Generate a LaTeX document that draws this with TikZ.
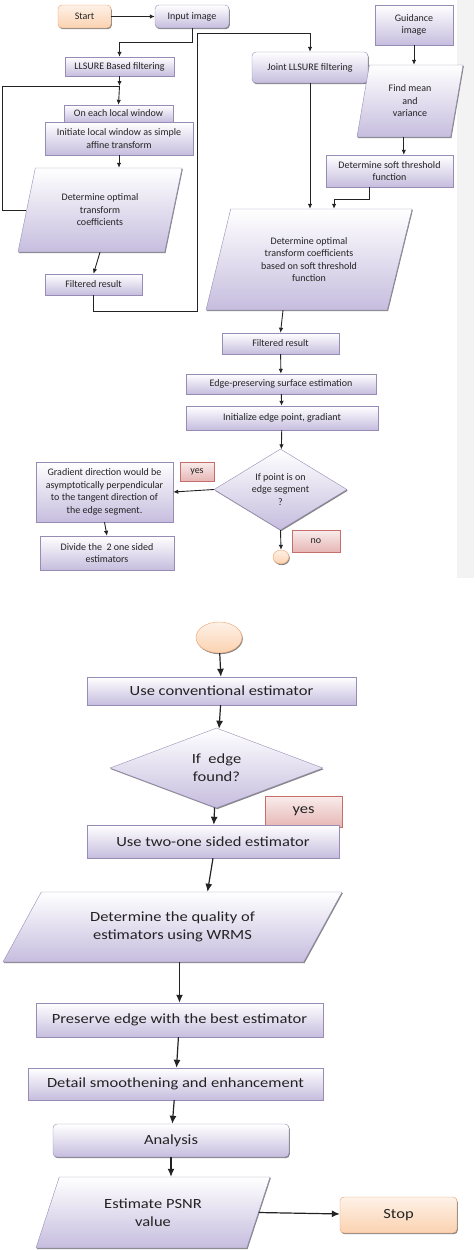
\documentclass[tikz,border=0pt]{standalone}
\usepackage{fontspec}
\setmainfont{Carlito}
\newfontfamily\widefont[FakeStretch=1.18]{Carlito}
\usetikzlibrary{arrows.meta,shapes.geometric,shadows}

\definecolor{lavender}{RGB}{198,189,222}
\definecolor{lavline}{RGB}{150,140,182}
\definecolor{peach}{RGB}{251,210,176}
\definecolor{peachline}{RGB}{238,160,108}
\definecolor{rose}{RGB}{230,182,180}
\definecolor{roseline}{RGB}{198,110,108}
\definecolor{ink}{RGB}{35,35,35}
\definecolor{strip}{RGB}{243,243,243}

\begin{document}
\begin{tikzpicture}[
  x=1pt, y=-1pt,
  font=\fontsize{10}{12.5}\selectfont, text=ink,
  base/.style={draw=lavline,top color=white,bottom color=lavender,
    align=center,inner sep=1pt,
    drop shadow={shadow xshift=0.8pt,shadow yshift=-1.2pt,opacity=.6,fill=black!80}},
  box/.style 2 args={base,rectangle,minimum width=#1,minimum height=#2},
  rbox/.style 2 args={box={#1}{#2},rounded corners=4pt},
  para/.style 2 args={base,trapezium,trapezium stretches body,
    minimum width=#1,minimum height=#2},
  test/.style 2 args={base,diamond,minimum width=#1,minimum height=#2,inner sep=0pt},
  term/.style 2 args={box={#1}{#2},rounded corners=4pt,draw=peachline,
    top color=peach!30,bottom color=peach},
  conn/.style 2 args={base,ellipse,minimum width=#1,minimum height=#2,
    draw=peachline,top color=peach!30,bottom color=peach},
  tag/.style 2 args={box={#1}{#2},draw=roseline,top color=rose!25,bottom color=rose},
  big/.style={font=\widefont\fontsize{14}{18}\selectfont},
  wire/.style={line width=0.9pt,draw=ink},
  arrow/.style={wire,-{Latex[length=5pt,width=4.5pt]}},
  bigarrow/.style={line width=1.2pt,draw=ink,-{Latex[length=8pt,width=7pt]}}
]
\useasboundingbox (0,0) rectangle (474,1250);
\fill[strip] (457,0) rectangle (474,578);

% upper chart
\node[term={53pt}{23pt}] (start) at (84.5,16.5) {Start};
\node[rbox={74pt}{23pt}] (input) at (192,16.5) {Input image};
\node[box={109pt}{19pt}] (llsure) at (119.5,66.5) {LLSURE Based filtering};
\node[box={109pt}{17pt}] (window) at (118.5,113.5) {On each local window};
\node[box={148pt}{33pt}] (affine) at (119,138.5)
  {Initiate local window as simple\\affine transform};
\node[para={164pt}{84pt},trapezium left angle=63,trapezium right angle=117]
  (opt) at (100,210) {Determine optimal\\transform\\coefficients};
\node[box={97pt}{21pt}] (filt1) at (93.5,284.5) {Filtered result};

\node[rbox={116pt}{31pt}] (joint) at (310,67.5) {Joint LLSURE filtering};
\node[box={78pt}{40pt}] (guide) at (414,25) {Guidance\\image};
\node[para={106pt}{72pt},trapezium left angle=70,trapezium right angle=110]
  (mean) at (410,101) {Find mean\\and\\variance};
\node[box={127pt}{32pt}] (soft) at (389.5,171) {Determine soft threshold\\function};
\node[para={206pt}{101pt},trapezium left angle=62,trapezium right angle=118]
  (optsoft) at (309,259.5)
  {Determine optimal\\transform coefficients\\based on soft threshold\\function};
\node[box={117pt}{21pt}] (filt2) at (280.5,343.5) {Filtered result};
\node[box={190pt}{20pt}] (surface) at (281,384) {Edge-preserving surface estimation};
\node[box={192pt}{24pt}] (init) at (282,418) {Initialize edge point, gradiant};
\node[test={133pt}{81pt},aspect=1.64] (point) at (280.5,489.5)
  {If point is on\\edge segment\\?};
\node[tag={34pt}{19pt}] (yes1) at (197,471.5) {yes};
\node[box={137pt}{60pt}] (grad) at (104.5,492)
  {Gradient direction would be\\asymptotically perpendicular\\to the tangent direction of\\the edge segment.};
\node[box={134pt}{34pt}] (divide) at (107,553) {Divide the~ 2 one sided\\estimators};
\node[tag={48pt}{22pt}] (no1) at (316,541) {no};
\node[conn={16pt}{14pt}] (out) at (281,557) {};

\draw[arrow] (start) -- (input);
\draw[arrow] (input.south) -- ++(0,14) -| (llsure.north);
\coordinate (loopc) at (2,86);
\coordinate (loopj) at (llsure.south |- loopc);
\draw[arrow] (llsure.south) -- (loopj);
\draw[arrow] (loopj) -- (window.north);
\draw[wire] (opt.west) -| (loopc) -- (loopj);
\draw[arrow] (affine.south) -- (affine.south |- opt.north);
\draw[arrow] (opt.south) -- (filt1.north);
\coordinate (back1) at (197,311);
\coordinate (back2) at (197,33);
\draw[arrow] (filt1.south) |- (back1) -- (back2) -| (joint.north);
\draw[arrow] (joint.south) -- (joint.south |- optsoft.north);
\draw[arrow] (guide.south) -- (guide.south |- mean.north);
\draw[arrow] (mean.bottom side) -- (mean.bottom side |- soft.north);
\draw[arrow] ([xshift=-20pt]soft.south) -- ++(0,12) -| ([xshift=25pt]optsoft.north);
\draw[arrow] ([xshift=-26pt]optsoft.south) -- (filt2.north);
\draw[arrow] (filt2) -- (surface);
\draw[arrow] (surface) -- (init);
\draw[arrow] (init) -- (point);
\draw[arrow] (point.west) -- (grad.east);
\draw[arrow] (grad.south) -- (divide.north);
\draw[arrow] (point.south) -- (out.north);

% lower chart
\node[conn={46pt}{31pt}] (in) at (219,637.5) {};
\node[box={269pt}{28pt},big] (conv) at (221.5,691) {Use conventional estimator};
\node[test={213pt}{80pt},aspect=2.66,big] (found) at (216.5,768) {If~ edge\\found?};
\node[tag={77pt}{31pt},big] (yes2) at (303.5,811.5) {yes};
\node[box={252pt}{33pt},big] (twoone) at (213,841.5) {Use two-one sided estimator};
\node[para={339pt}{70pt},trapezium left angle=40,trapezium right angle=140,big]
  (wrms) at (172.5,927) {Determine the quality of\\estimators using WRMS};
\node[box={287pt}{34pt},big] (preserve) at (179.5,1020) {Preserve edge with the best estimator};
\node[box={295pt}{32pt},big] (detail) at (175.5,1084) {Detail smoothening and enhancement};
\node[rbox={236pt}{33pt},big] (analysis) at (171,1140.5) {Analysis};
\node[para={234pt}{71pt},trapezium left angle=52,trapezium right angle=128,big]
  (psnr) at (153,1212.5) {Estimate PSNR\\value};
\node[term={117pt}{36pt},big] (stop) at (398.5,1215) {Stop};

\draw[bigarrow] (in) -- (conv);
\draw[bigarrow] (conv) -- (found);
\draw[bigarrow] (found) -- (twoone);
\draw[bigarrow] (twoone.south) -- ([xshift=35pt]wrms.north);
\draw[bigarrow] (preserve.north |- wrms.south) -- (preserve.north);
\draw[bigarrow] (preserve) -- (detail);
\draw[bigarrow] (detail) -- (analysis);
\draw[bigarrow] (analysis.south) -- (analysis.south |- psnr.north);
\draw[bigarrow] (psnr.right side) -- (stop);
\end{tikzpicture}
\end{document}
